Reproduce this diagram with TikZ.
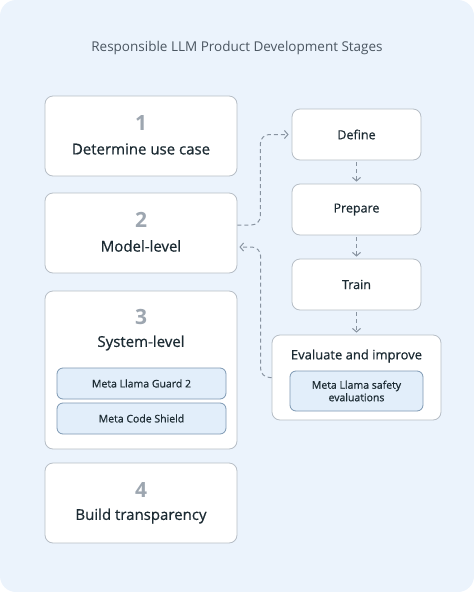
\documentclass[tikz,border=0pt]{standalone}
\usepackage{fontspec}
\setmainfont{Open Sans}
\newfontfamily\medfont[FakeBold=0.6]{Open Sans}
\usetikzlibrary{arrows.meta,positioning}

\definecolor{bgblue}{HTML}{EBF3FC}
\definecolor{boxline}{HTML}{B7BEC6}
\definecolor{innerfill}{HTML}{E2EEFA}
\definecolor{innerline}{HTML}{7D98B3}
\definecolor{numgray}{HTML}{9DA6B0}
\definecolor{txtdark}{HTML}{1C2B33}
\definecolor{titlegray}{HTML}{4B5661}
\definecolor{flowgray}{HTML}{8893A0}

\begin{document}
\begin{tikzpicture}[x=1pt, y=-1pt,
    stage/.style={rectangle, draw=boxline, fill=white, line width=0.8pt, rounded corners=8pt, minimum width=192pt, inner sep=0pt},
    substage/.style={rectangle, draw=boxline, fill=white, line width=0.8pt, rounded corners=8pt, inner sep=0pt},
    tool/.style={rectangle, draw=innerline, fill=innerfill, line width=0.8pt, rounded corners=6pt, inner sep=0pt, text=txtdark, font=\medfont\fontsize{10.5}{12.5}\selectfont, align=center},
    num/.style={inner sep=0pt, text=numgray, font=\fontsize{21}{24}\selectfont\bfseries},
    lbl/.style={inner sep=0pt, text=txtdark, font=\medfont\fontsize{15}{18}\selectfont},
    flow/.style={draw=flowgray, line width=1pt, dash pattern=on 4pt off 3pt, rounded corners=9pt, -{Straight Barb[length=3.5pt, width=8pt]}}
]
    \useasboundingbox (0,0) rectangle (474,592);
    \fill[bgblue, rounded corners=16pt] (0,0) rectangle (474,592);

    \node (title) [inner sep=0pt, text=titlegray, font=\fontsize{13.5}{16}\selectfont] at (237,48) {Responsible LLM Product Development Stages};

    % left column: the four stages
    \node (s1) [stage, minimum height=80pt] at (141,136) {};
    \node (n1) [num] at (141,123) {1};
    \node (l1) [lbl] at (141,149) {Determine use case};

    \node (s2) [stage, minimum height=80pt] at (141,233) {};
    \node (n2) [num] at (141,220) {2};
    \node (l2) [lbl] at (141,246) {Model-level};

    \node (s3) [stage, minimum height=158pt] at (141,370) {};
    \node (n3) [num] at (141,317) {3};
    \node (l3) [lbl] at (141,343) {System-level};
    \node (guard) [tool, minimum width=169pt, minimum height=31pt] at (141.5,383.5) {Meta Llama Guard 2};
    \node (shield) [tool, minimum width=169pt, minimum height=31pt] at (141.5,418.5) {Meta Code Shield};

    \node (s4) [stage, minimum height=80pt] at (141,503) {};
    \node (n4) [num] at (141,490) {4};
    \node (l4) [lbl] at (141,516) {Build transparency};

    % right column: model-level steps
    \node (define) [substage, minimum width=129pt, minimum height=51pt, text=txtdark, font=\medfont\fontsize{12.5}{15}\selectfont] at (356.5,134.5) {Define};
    \node (prepare) [substage, minimum width=129pt, minimum height=51pt, text=txtdark, font=\medfont\fontsize{12.5}{15}\selectfont] at (356.5,209.5) {Prepare};
    \node (train) [substage, minimum width=129pt, minimum height=51pt, text=txtdark, font=\medfont\fontsize{12.5}{15}\selectfont] at (356.5,284.5) {Train};
    \node (evaluate) [substage, minimum width=169pt, minimum height=85pt] at (356.5,377.5) {};
    \node (le) [inner sep=0pt, text=txtdark, font=\medfont\fontsize{13}{15}\selectfont] at (356.5,356) {Evaluate and improve};
    \node (safety) [tool, minimum width=133pt, minimum height=40pt] at (356.5,391) {Meta Llama safety\\evaluations};

    \draw[flow] (define.south) ++(0,2) -- ([yshift=2pt]prepare.north);
    \draw[flow] (prepare.south) ++(0,2) -- ([yshift=2pt]train.north);
    \draw[flow] (train.south) ++(0,2) -- ([yshift=2pt]evaluate.north);

    \draw[flow, shorten >=3pt] ([yshift=8pt]s2.east) -- ++(23,0) |- (define.west);
    \draw[flow, shorten >=2pt] (evaluate.west) -- ++(-11,0) |- ([yshift=-14pt]s2.east);

\end{tikzpicture}
\end{document}
